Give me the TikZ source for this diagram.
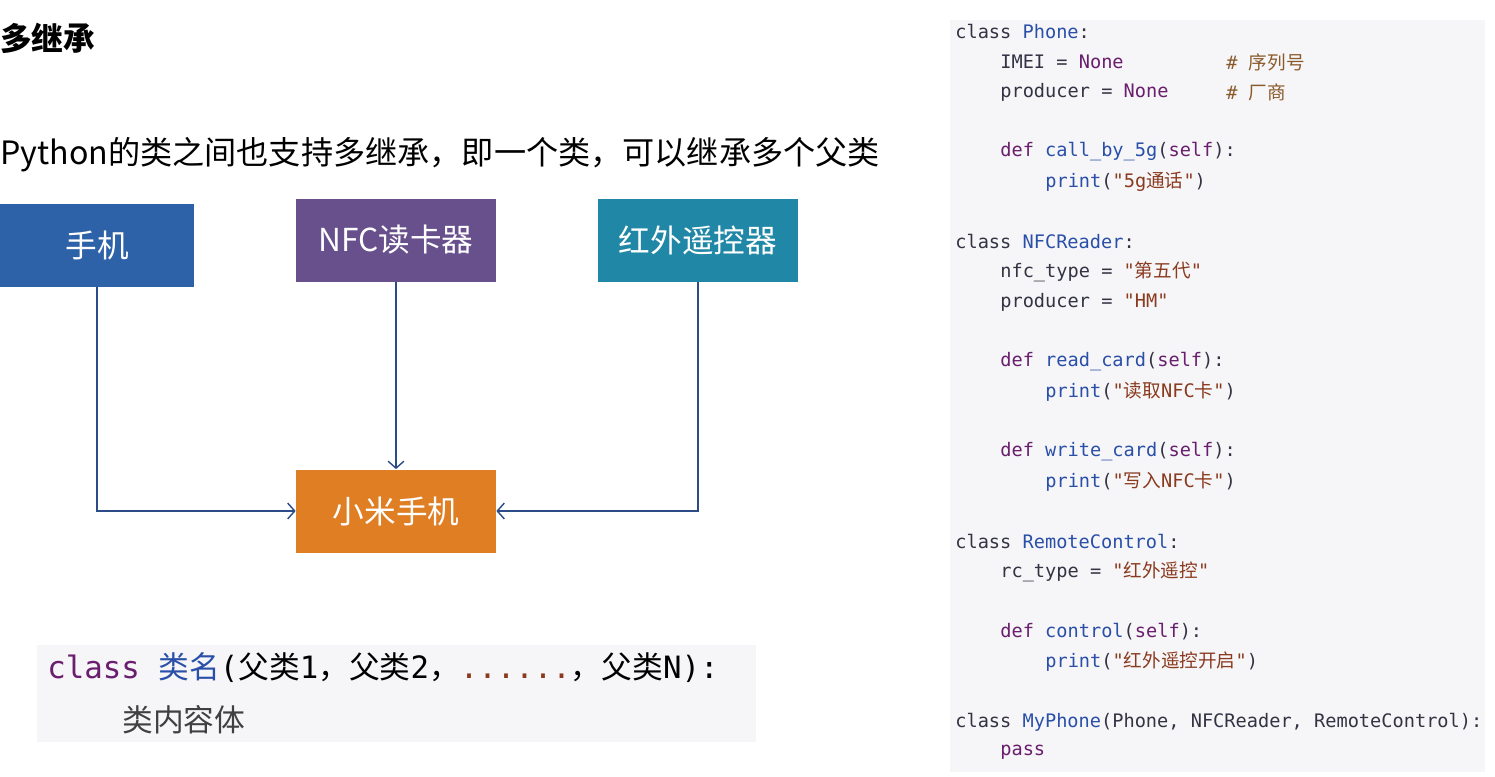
\documentclass[tikz,border=0pt]{standalone}
\usepackage{fontspec}
\setmainfont{Noto Sans CJK SC}
\setmonofont{DejaVu Sans Mono}
\newfontfamily\cjk{Noto Sans CJK SC}
\usetikzlibrary{positioning,arrows.meta}

\definecolor{phoneblue}{HTML}{2E62A8}
\definecolor{nfcpurple}{HTML}{67508B}
\definecolor{irteal}{HTML}{2187A6}
\definecolor{miorange}{HTML}{E07E24}
\definecolor{linkblue}{HTML}{2B4C86}
\definecolor{codebg}{HTML}{F6F6F8}
\definecolor{kwgrey}{HTML}{333344}
\definecolor{nameblue}{HTML}{2A4FA8}
\definecolor{constpurple}{HTML}{6A1E6E}
\definecolor{strbrown}{HTML}{8A3A1E}
\definecolor{cmtbrown}{HTML}{8B5A2B}

\tikzset{
  cls/.style={minimum width=200\pxu, minimum height=83\pxu, inner sep=0pt,
    text=white, font=\fontsize{18}{20}\selectfont},
  link/.style={draw=linkblue, line width=0.8pt, -{Straight Barb[length=4pt,width=9pt]}},
  code/.style={anchor=west, inner sep=0pt, font=\ttfamily\fontsize{10.6}{12}\selectfont, text=kwgrey}
}
\newlength\pxu
\setlength\pxu{0.02cm}
\newcommand\kw[1]{\textcolor{constpurple}{#1}}
\newcommand\nm[1]{\textcolor{nameblue}{#1}}
\newcommand\st[1]{\textcolor{strbrown}{#1}}

\begin{document}
\begin{tikzpicture}[x=0.02cm,y=-0.02cm]
\useasboundingbox (0,0) rectangle (1495,777);

% backgrounds
\fill[codebg] (950,20) rectangle (1485,772);
\fill[codebg] (37,645) rectangle (756,742);

% heading
\node[anchor=west, inner sep=0pt, font=\bfseries\fontsize{18}{20}\selectfont] (title) at (0,38) {多继承};
\node[anchor=west, inner sep=0pt, font=\fontsize{18.3}{20}\selectfont] (intro) at (0,155) {Python的类之间也支持多继承，即一个类，可以继承多个父类};

% classes
\node[cls, fill=phoneblue, minimum width=194\pxu] (phone) at (97,245) {手机};
\node[cls, fill=nfcpurple] (nfc) at (396,240) {NFC读卡器};
\node[cls, fill=irteal] (ir) at (698,240) {红外遥控器};
\node[cls, fill=miorange] (mi) at (396,511) {小米手机};

\draw[link] (phone.south) |- (mi.west);
\draw[link] (nfc) -- (mi);
\draw[link] (ir.south) |- (mi.east);

% syntax
\node[anchor=west, inner sep=0pt, font=\ttfamily\fontsize{17.5}{20}\selectfont] (syn) at (47,668)
  {\textcolor{constpurple}{class} \textcolor{nameblue}{\cjk 类名}({\cjk 父类}1{\cjk ，}{\cjk 父类}2{\cjk ，}\textcolor{strbrown}{......}{\cjk ，}{\cjk 父类}N):};
\node[anchor=west, inner sep=0pt, font=\fontsize{17.5}{20}\selectfont, text=black!75] (body) at (122,720) {类内容体};

% code listing
\node[code] (l1) at (955,32) {class \nm{Phone}:};
\node[code] (l2) at (1000,62) {IMEI = \kw{None}};
\node[code, text=cmtbrown] (c2) at (1226,62) {\# {\cjk 序列号}};
\node[code] (l3) at (1000,92) {producer = \kw{None}};
\node[code, text=cmtbrown] (c3) at (1226,92) {\# {\cjk 厂商}};
\node[code] (l4) at (1000,152) {\kw{def} \nm{call\_by\_5g}(\kw{self}):};
\node[code] (l5) at (1045,182) {\nm{print}(\st{"5g{\cjk 通话}"})};
\node[code] (l6) at (955,242) {class \nm{NFCReader}:};
\node[code] (l7) at (1000,272) {nfc\_type = \st{"{\cjk 第五代}"}};
\node[code] (l8) at (1000,302) {producer = \st{"HM"}};
\node[code] (l9) at (1000,362) {\kw{def} \nm{read\_card}(\kw{self}):};
\node[code] (l10) at (1045,392) {\nm{print}(\st{"{\cjk 读取}NFC{\cjk 卡}"})};
\node[code] (l11) at (1000,452) {\kw{def} \nm{write\_card}(\kw{self}):};
\node[code] (l12) at (1045,482) {\nm{print}(\st{"{\cjk 写入}NFC{\cjk 卡}"})};
\node[code] (l13) at (955,542) {class \nm{RemoteControl}:};
\node[code] (l14) at (1000,572) {rc\_type = \st{"{\cjk 红外遥控}"}};
\node[code] (l15) at (1000,632) {\kw{def} \nm{control}(\kw{self}):};
\node[code] (l16) at (1045,662) {\nm{print}(\st{"{\cjk 红外遥控开启}"})};
\node[code] (l17) at (955,722) {class \nm{MyPhone}(Phone, NFCReader, RemoteControl):};
\node[code] (l18) at (1000,752) {\kw{pass}};

\end{tikzpicture}
\end{document}
